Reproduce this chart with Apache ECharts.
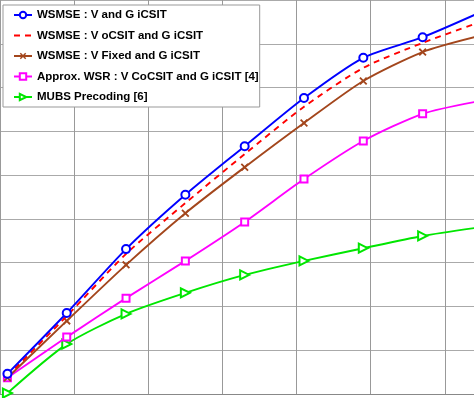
<!DOCTYPE html>
<html>
<head>
<meta charset="utf-8">
<script src="https://cdn.jsdelivr.net/npm/echarts@6/dist/echarts.min.js"></script>
<style>
  html, body { margin: 0; padding: 0; background: #fff; }
  #chart { width: 474px; height: 398px; }
</style>
</head>
<body>
<div id="chart"></div>
<script>
const xValues = [0.5, 4.5, 8.5, 12.5, 16.5, 20.5, 24.5, 28.5, 32];

const seriesNames = [
    'WSMSE : V and G iCSIT',
    'WSMSE : V oCSIT and G iCSIT',
    'WSMSE : V Fixed and G iCSIT',
    'Approx. WSR : V CoCSIT and G iCSIT [4]',
    'MUBS Precoding [6]'
];

const vgICSIT   = [0.46, 1.85, 3.31, 4.55, 5.66, 6.76, 7.68, 8.15, 8.66];
const vOCSIT    = [0.41, 1.78, 3.20, 4.36, 5.48, 6.56, 7.45, 8.02, 8.45];
const vFixed    = [0.37, 1.67, 2.95, 4.13, 5.18, 6.19, 7.15, 7.81, 8.15];
const approxWSR = [0.37, 1.30, 2.19, 3.04, 3.93, 4.91, 5.78, 6.40, 6.67];
const mubs      = [0.02, 1.14, 1.83, 2.31, 2.72, 3.04, 3.33, 3.61, 3.79];

const crossPath = 'path://M0,1.6L1.6,0L10,8.4L8.4,10Z M8.4,0L10,1.6L1.6,10L0,8.4Z';

// last point is where the curve leaves the frame, no marker there
function pts(ys) {
    return ys.map((y, i) => i === ys.length - 1
        ? { value: [xValues[i], y], symbol: 'none' }
        : [xValues[i], y]);
}

function mk(name, ys, color, symbol, size, extra) {
    return Object.assign({
        name,
        type: 'line',
        data: pts(ys),
        smooth: 0.25,
        symbol,
        symbolSize: size,
        showAllSymbol: true,
        lineStyle: { color, width: 1.9 },
        itemStyle: { color, borderColor: color, borderWidth: 1.6 },
        emphasis: { disabled: true },
        animation: false
    }, extra || {});
}

const chart = echarts.init(document.getElementById('chart'));
const option = {
    backgroundColor: '#fff',
    animation: false,
    grid: { left: 0, top: 0, width: 519, height: 394, outerBoundsMode: 'none', containLabel: false },
    xAxis: {
        type: 'value',
        min: 0,
        max: 35,
        interval: 5,
        axisLine: { show: true, lineStyle: { color: '#888', width: 1 } },
        axisTick: { show: false },
        axisLabel: { show: false },
        splitLine: { show: true, lineStyle: { color: '#999', width: 1 } }
    },
    yAxis: {
        type: 'value',
        min: 0,
        max: 9,
        interval: 1,
        axisLine: { show: false },
        axisTick: { show: false },
        axisLabel: { show: false },
        splitLine: { show: true, lineStyle: { color: '#aaa', width: 1 } }
    },
    legend: {
        left: 3,
        top: 5,
        orient: 'vertical',
        padding: [3, 1, 3, 10],
        itemWidth: 18,
        itemHeight: 8,
        itemGap: 6.5,
        backgroundColor: '#fff',
        borderColor: '#999',
        borderWidth: 1,
        selectedMode: false,
        textStyle: {
            fontFamily: 'Liberation Sans, Arial, sans-serif',
            fontWeight: 'bold',
            fontSize: 11.5,
            color: '#000',
            lineHeight: 14
        },
        data: seriesNames.map((name, i) => i === 1
            ? { name, itemStyle: { opacity: 0 } }
            : name)
    },
    series: [
        mk(seriesNames[4], mubs, '#00e600', 'emptyTriangle', 9, { symbolRotate: -90, z: 2 }),
        mk(seriesNames[3], approxWSR, '#ff00ff', 'emptyRect', 7, { z: 3 }),
        mk(seriesNames[2], vFixed, '#a3461c', crossPath, 8, { z: 4, itemStyle: { color: '#a3461c' } }),
        mk(seriesNames[1], vOCSIT, '#ff0000', 'circle', 0, { z: 5, showSymbol: false, lineStyle: { color: '#ff0000', width: 1.9, type: [6, 5] } }),
        mk(seriesNames[0], vgICSIT, '#0000ff', 'emptyCircle', 8, { z: 6 })
    ]
};
chart.setOption(option);
</script>
</body>
</html>
